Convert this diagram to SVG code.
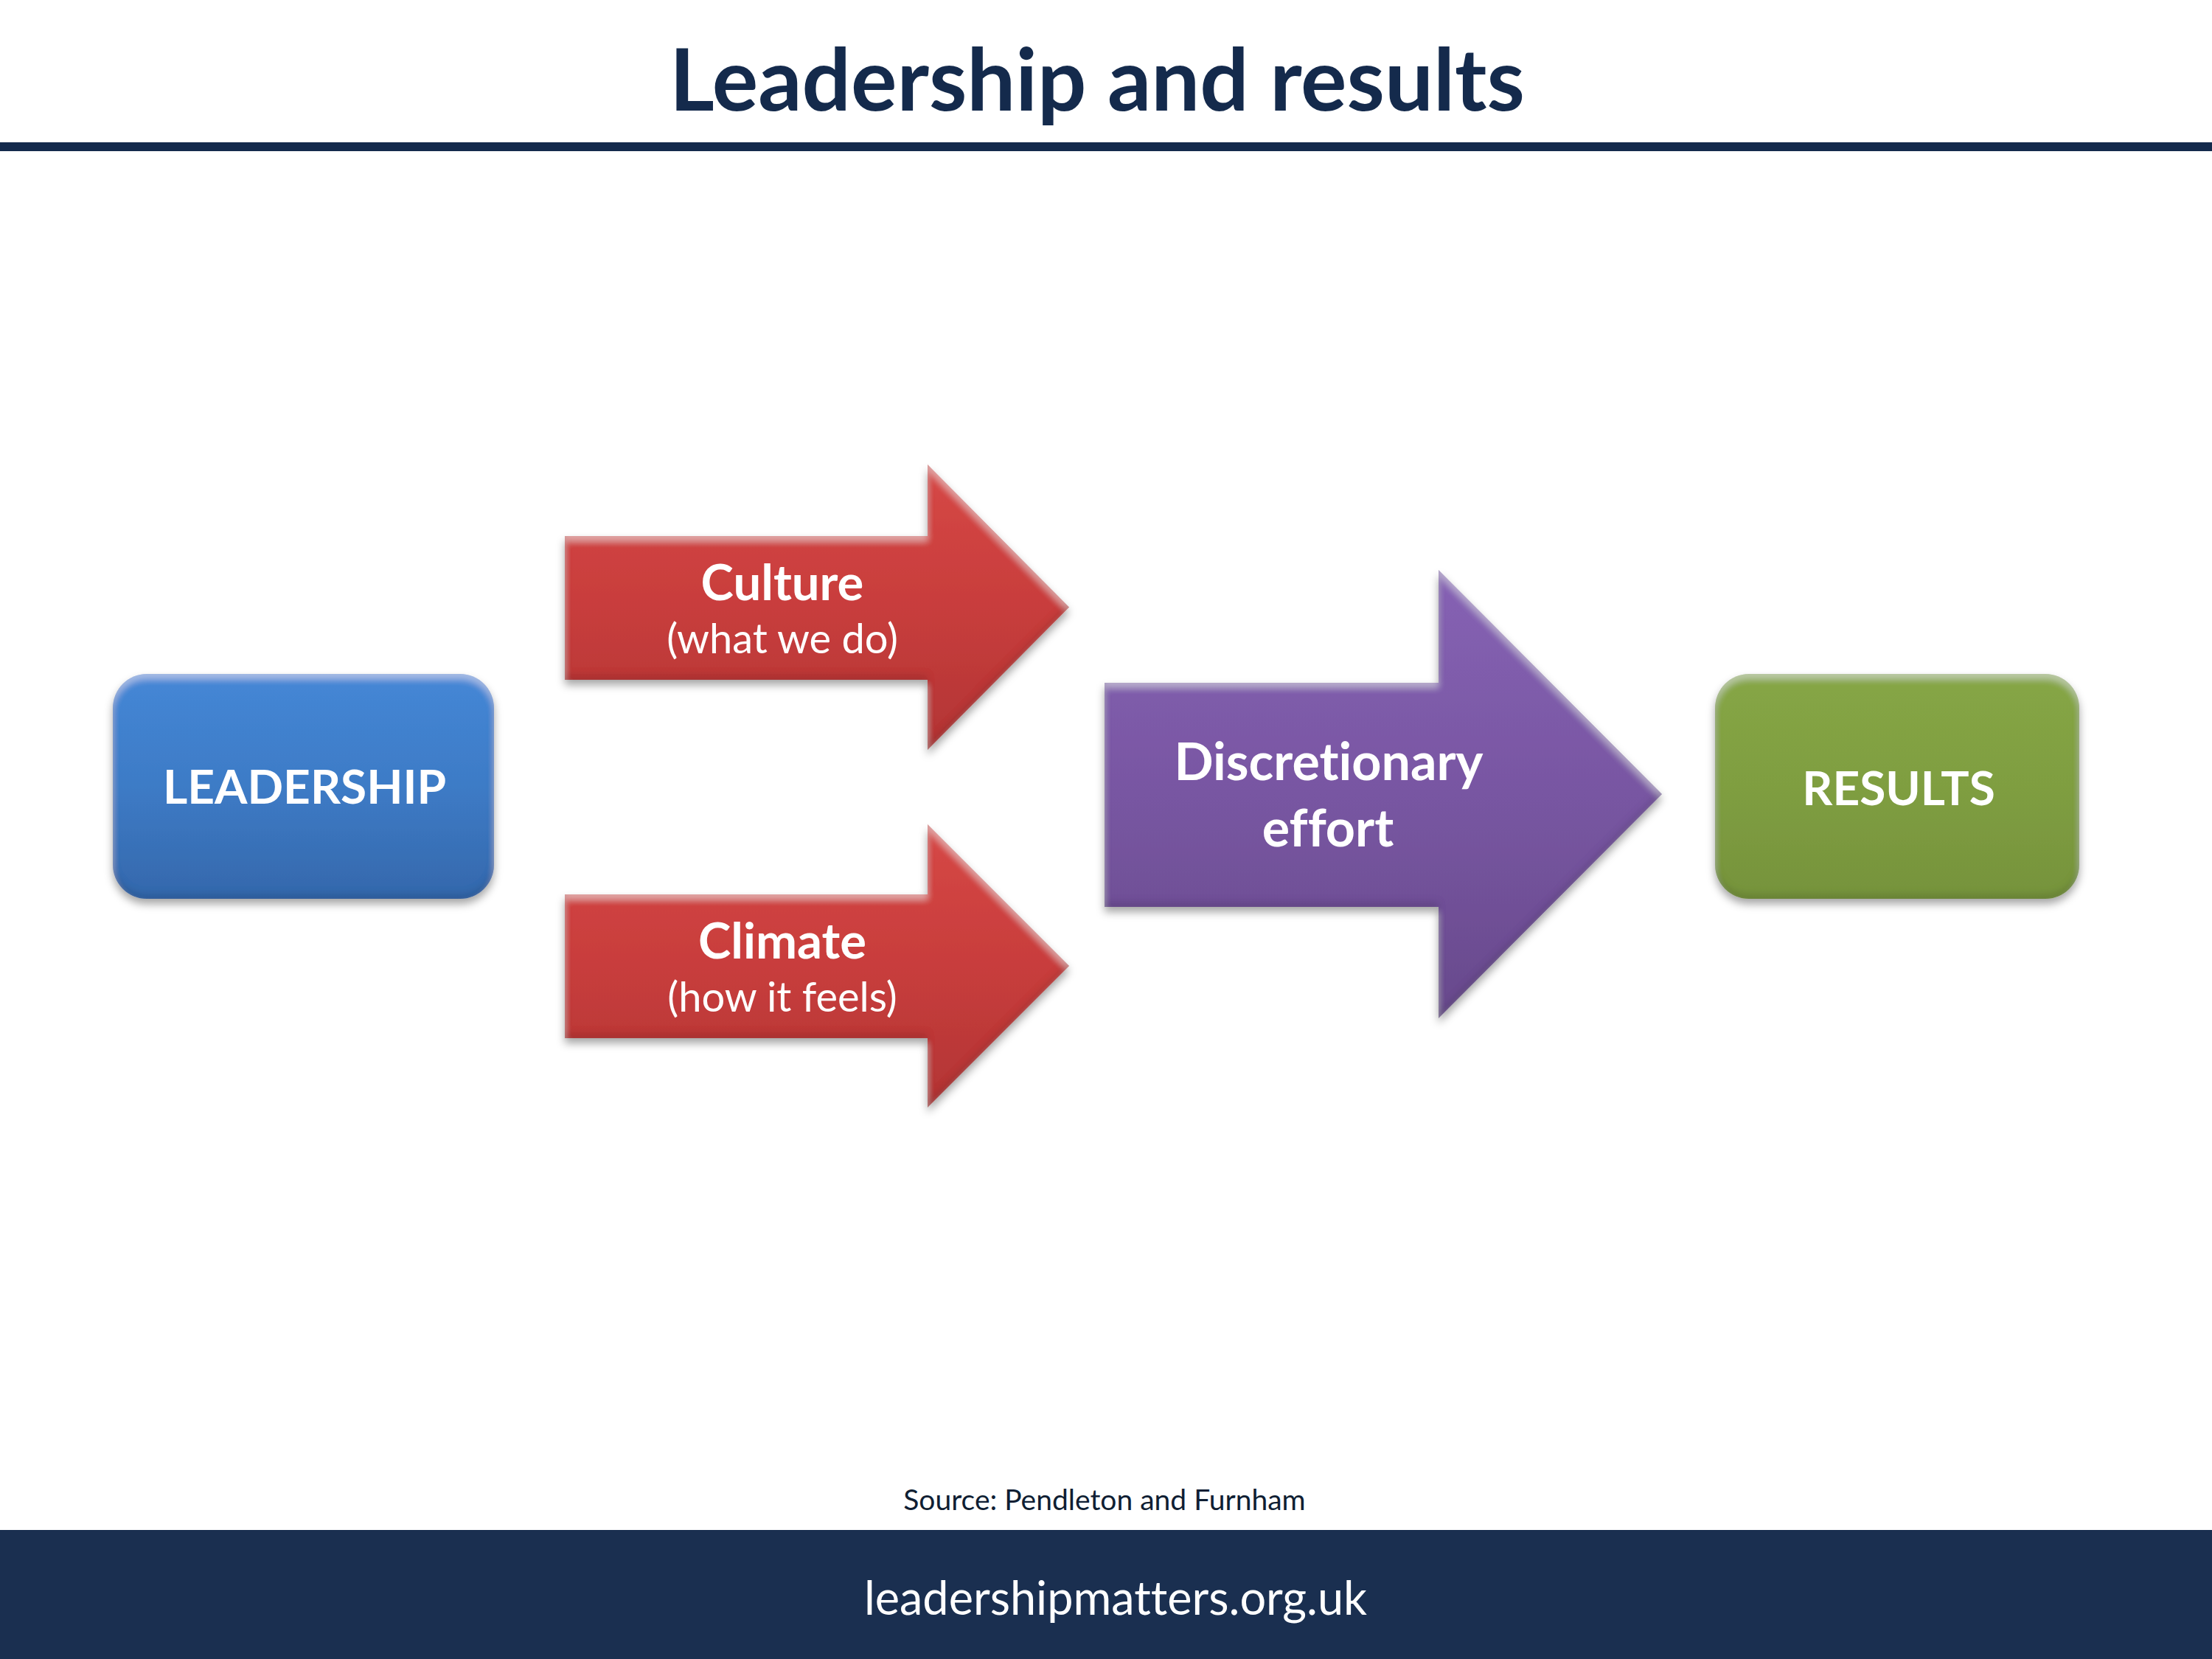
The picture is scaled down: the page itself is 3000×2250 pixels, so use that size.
<svg xmlns="http://www.w3.org/2000/svg" width="3000" height="2250" viewBox="0 0 3000 2250">
<defs>
<style>
text{font-variant-ligatures:none}
.title{font-family:Lato,"Open Sans","Liberation Sans",sans-serif;font-weight:700;fill:#142A4C}
.lbl{font-family:Lato,"Open Sans","Liberation Sans",sans-serif;font-weight:700;fill:#ffffff;text-anchor:middle}
.sub{font-family:Lato,"Open Sans","Liberation Sans",sans-serif;font-weight:400;fill:#ffffff;text-anchor:middle}
.src{font-family:Lato,"Open Sans","Liberation Sans",sans-serif;font-weight:400;fill:#0F1E33;text-anchor:middle}
</style>
<linearGradient id="gBlue" x1="0" y1="0" x2="0" y2="1">
<stop offset="0" stop-color="#4587D6"/><stop offset="0.5" stop-color="#3D7BC6"/><stop offset="1" stop-color="#3568AC"/>
</linearGradient>
<linearGradient id="gRed" x1="0" y1="0" x2="0" y2="1">
<stop offset="0" stop-color="#D64846"/><stop offset="0.5" stop-color="#C83D3C"/><stop offset="1" stop-color="#B23535"/>
</linearGradient>
<linearGradient id="gPurple" x1="0" y1="0" x2="0" y2="1">
<stop offset="0" stop-color="#8662B4"/><stop offset="0.5" stop-color="#7856A2"/><stop offset="1" stop-color="#684A8C"/>
</linearGradient>
<linearGradient id="gGreen" x1="0" y1="0" x2="0" y2="1">
<stop offset="0" stop-color="#86A645"/><stop offset="0.5" stop-color="#7F9E41"/><stop offset="1" stop-color="#76933C"/>
</linearGradient>
<filter id="fx" x="-10%" y="-10%" width="120%" height="130%">
<feGaussianBlur in="SourceAlpha" stdDeviation="5" result="b"/>
<feOffset in="b" dy="7" result="o1"/>
<feComposite in="SourceAlpha" in2="o1" operator="out" result="topEdge"/>
<feFlood flood-color="#ffffff" flood-opacity="0.35"/>
<feComposite in2="topEdge" operator="in" result="hi"/>
<feOffset in="b" dy="-7" result="o2"/>
<feComposite in="SourceAlpha" in2="o2" operator="out" result="botEdge"/>
<feFlood flood-color="#000000" flood-opacity="0.22"/>
<feComposite in2="botEdge" operator="in" result="lo"/>
<feDropShadow in="SourceGraphic" dx="0" dy="7" stdDeviation="6" flood-color="#000000" flood-opacity="0.35" result="ds"/>
<feMerge><feMergeNode in="ds"/><feMergeNode in="hi"/><feMergeNode in="lo"/></feMerge>
</filter>
</defs>
<rect x="0" y="0" width="3000" height="2250" fill="#ffffff"/>
<g id="header">
<text class="title" x="1488" y="150" font-size="117" text-anchor="middle">Leadership and results</text>
<rect x="0" y="193" width="3000" height="12" fill="#142A4C"/>
</g>
<g id="connectors"></g>
<g id="node-leadership">
<rect x="153" y="914" width="517" height="305" rx="46" ry="46" fill="url(#gBlue)" filter="url(#fx)"/>
<text class="lbl" x="413" y="1090" font-size="64">LEADERSHIP</text>
</g>
<g id="node-culture">
<path d="M766,727 L1258,727 L1258,630 L1450,823.5 L1258,1017 L1258,922 L766,922 Z" fill="url(#gRed)" filter="url(#fx)"/>
<text class="lbl" x="1061" y="814" font-size="67">Culture</text>
<text class="sub" x="1061" y="886" font-size="56">(what we do)</text>
</g>
<g id="node-climate">
<path d="M766,1213 L1258,1213 L1258,1118 L1450,1310 L1258,1502 L1258,1408 L766,1408 Z" fill="url(#gRed)" filter="url(#fx)"/>
<text class="lbl" x="1061" y="1300" font-size="67">Climate</text>
<text class="sub" x="1061" y="1372" font-size="56">(how it feels)</text>
</g>
<g id="node-discretionary">
<path d="M1498,926 L1951,926 L1951,773 L2254,1077 L1951,1381 L1951,1230 L1498,1230 Z" fill="url(#gPurple)" filter="url(#fx)"/>
<text class="lbl" x="1802" y="1058" font-size="70">Discretionary</text>
<text class="lbl" x="1801" y="1148" font-size="70">effort</text>
</g>
<g id="node-results">
<rect x="2326" y="914" width="494" height="305" rx="46" ry="46" fill="url(#gGreen)" filter="url(#fx)"/>
<text class="lbl" x="2575" y="1092" font-size="64">RESULTS</text>
</g>
<g id="footer">
<text class="src" x="1498" y="2048" font-size="39">Source: Pendleton and Furnham</text>
<rect x="0" y="2075" width="3000" height="175" fill="#1A2F50"/>
<text class="sub" x="1513" y="2190" font-size="63">leadershipmatters.org.uk</text>
</g>
</svg>
